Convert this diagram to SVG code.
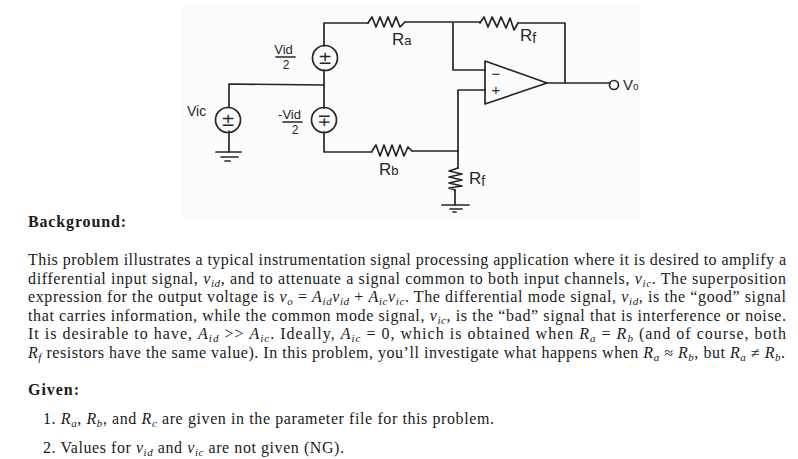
<svg xmlns="http://www.w3.org/2000/svg" width="798" height="459" viewBox="0 0 798 459">
<style>
.w{fill:none;stroke:#262626;stroke-width:1.7;stroke-linejoin:round;stroke-linecap:round}
.h{font-family:"Liberation Sans",Arial,sans-serif;fill:#262626}
.m{font-family:"DejaVu Sans",sans-serif;font-size:17px;fill:#262626;text-anchor:middle}
.p{font-family:"Liberation Serif","Times New Roman",serif;font-size:16px;fill:#1a1a1a}
.b{font-weight:bold}
.i{font-style:italic}
.s{font-size:11px;font-style:italic}
</style>
<rect x="0" y="0" width="798" height="459" fill="#ffffff"/>
<rect x="182" y="3" width="458" height="215" fill="#fcfcfc"/>
<g id="connectors" class="w">
<path d="M324 46V23H368"/>
<path d="M405 22H480"/>
<path d="M518 23H565V83"/>
<path d="M453 23V70H485"/>
<path d="M485 90H458V151"/>
<path d="M324 70V108M324 132V152H372"/>
<path d="M412 151H458"/>
<path d="M458 151V168"/>
<path d="M455 190V205"/>
<path d="M229 107V84L324 85"/>
<path d="M229 131V152"/>
<path d="M547 83H610"/>
</g>
<g id="source-vic">
<circle class="w" cx="228" cy="120" r="12.500"/>
<text class="m" x="228" y="126">±</text>
<path class="w" d="M216 152H241M221 157H238M225 161H230"/>
<text class="h" x="187" y="116" font-size="14">Vic</text>
</g>
<g id="source-vid-top">
<circle class="w" cx="325" cy="58" r="12.500"/>
<text class="m" x="325" y="64">±</text>
<text class="h" x="283.500" y="54" font-size="13" text-anchor="middle">Vid</text>
<path class="w" d="M276 57H295"/>
<text class="h" x="286" y="69" font-size="12" text-anchor="middle">2</text>
</g>
<g id="source-vid-bottom">
<circle class="w" cx="324" cy="120" r="12.500"/>
<text class="m" x="324" y="126">∓</text>
<text class="h" x="289.500" y="118.500" font-size="13" text-anchor="middle">-Vid</text>
<path class="w" d="M283 122H302"/>
<text class="h" x="295" y="134" font-size="12" text-anchor="middle">2</text>
</g>
<g id="resistor-ra">
<path class="w" d="M368 23L372 17L376 27L380 17L384 27L388 17L392 27L396 17L400 27L405 22"/>
<text class="h" x="392" y="45" font-size="17">R<tspan font-size="13">a</tspan></text>
</g>
<g id="resistor-rf-top">
<path class="w" d="M480 23L484 17L488 27L492 17L497 27L501 17L506 28L510 18L514 30L518 23"/>
<text class="h" x="520" y="41" font-size="17">R<tspan font-size="14" dy="2">f</tspan></text>
</g>
<g id="resistor-rb">
<path class="w" d="M372 151L376 145L380 156L384 145L388 156L392 145L396 156L400 145L404 156L408 147L412 151"/>
<text class="h" x="379" y="175" font-size="17">R<tspan font-size="13">b</tspan></text>
</g>
<g id="resistor-rf-bottom">
<path class="w" d="M458 168L449 171L462 174L449 177L462 180L449 183L462 186L449 188L455 190"/>
<text class="h" x="469" y="184" font-size="17">R<tspan font-size="14" dy="2">f</tspan></text>
<path class="w" d="M442 205H469M450 209H462M453 212H456"/>
</g>
<g id="opamp">
<path class="w" d="M485 61L547 83L485 104Z"/>
<text class="h" x="496" y="79" font-size="15" text-anchor="middle">−</text>
<text class="h" x="496" y="95" font-size="15" text-anchor="middle">+</text>
</g>
<g id="output">
<circle class="w" cx="614" cy="85" r="4.500"/>
<text class="h" x="623" y="90" font-size="15">V<tspan font-size="10">o</tspan></text>
</g>
<g id="text">
<text class="p b" x="28" y="227" textLength="98">Background:</text>
<text class="p" x="28" y="265" textLength="758">This problem illustrates a typical instrumentation signal processing application where it is desired to amplify a</text>
<text class="p" x="28" y="283.500" textLength="758">differential input signal, <tspan class="i">v</tspan><tspan class="s" dy="3">id</tspan><tspan dy="-3">, and to attenuate a signal common to both input channels, </tspan><tspan class="i">v</tspan><tspan class="s" dy="3">ic</tspan><tspan dy="-3">.  The superposition</tspan></text>
<text class="p" x="28" y="302" textLength="758">expression for the output voltage is <tspan class="i">v</tspan><tspan class="s" dy="3">o</tspan><tspan dy="-3"> = </tspan><tspan class="i">A</tspan><tspan class="s" dy="3">id</tspan><tspan class="i" dy="-3">v</tspan><tspan class="s" dy="3">id</tspan><tspan dy="-3"> + </tspan><tspan class="i">A</tspan><tspan class="s" dy="3">ic</tspan><tspan class="i" dy="-3">v</tspan><tspan class="s" dy="3">ic</tspan><tspan dy="-3">.  The differential mode signal, </tspan><tspan class="i">v</tspan><tspan class="s" dy="3">id</tspan><tspan dy="-3">, is the “good” signal</tspan></text>
<text class="p" x="28" y="320.500" textLength="758">that carries information, while the common mode signal, <tspan class="i">v</tspan><tspan class="s" dy="3">ic</tspan><tspan dy="-3">, is the “bad” signal that is interference or noise.</tspan></text>
<text class="p" x="28" y="339" textLength="758">It is desirable to have, <tspan class="i">A</tspan><tspan class="s" dy="3">id</tspan><tspan dy="-3"> &gt;&gt; </tspan><tspan class="i">A</tspan><tspan class="s" dy="3">ic</tspan><tspan dy="-3">.  Ideally, </tspan><tspan class="i">A</tspan><tspan class="s" dy="3">ic</tspan><tspan dy="-3"> = 0, which is obtained when </tspan><tspan class="i">R</tspan><tspan class="s" dy="3">a</tspan><tspan dy="-3"> = </tspan><tspan class="i">R</tspan><tspan class="s" dy="3">b</tspan><tspan dy="-3"> (and of course, both</tspan></text>
<text class="p" x="28" y="358" textLength="757"><tspan class="i">R</tspan><tspan class="s" dy="3">f</tspan><tspan dy="-3"> resistors have the same value).  In this problem, you’ll investigate what happens when </tspan><tspan class="i">R</tspan><tspan class="s" dy="3">a</tspan><tspan dy="-3"> ≈ </tspan><tspan class="i">R</tspan><tspan class="s" dy="3">b</tspan><tspan dy="-3">, but </tspan><tspan class="i">R</tspan><tspan class="s" dy="3">a</tspan><tspan dy="-3"> ≠ </tspan><tspan class="i">R</tspan><tspan class="s" dy="3">b</tspan><tspan dy="-3">.</tspan></text>
<text class="p b" x="28" y="395" textLength="51">Given:</text>
<text class="p" x="43" y="424" textLength="451">1.  <tspan class="i">R</tspan><tspan class="s" dy="3">a</tspan><tspan dy="-3">, </tspan><tspan class="i">R</tspan><tspan class="s" dy="3">b</tspan><tspan dy="-3">, and </tspan><tspan class="i">R</tspan><tspan class="s" dy="3">c</tspan><tspan dy="-3"> are given in the parameter file for this problem.</tspan></text>
<text class="p" x="43" y="453" textLength="301">2.  Values for <tspan class="i">v</tspan><tspan class="s" dy="3">id</tspan><tspan dy="-3"> and </tspan><tspan class="i">v</tspan><tspan class="s" dy="3">ic</tspan><tspan dy="-3"> are not given (NG).</tspan></text>
</g>
</svg>
